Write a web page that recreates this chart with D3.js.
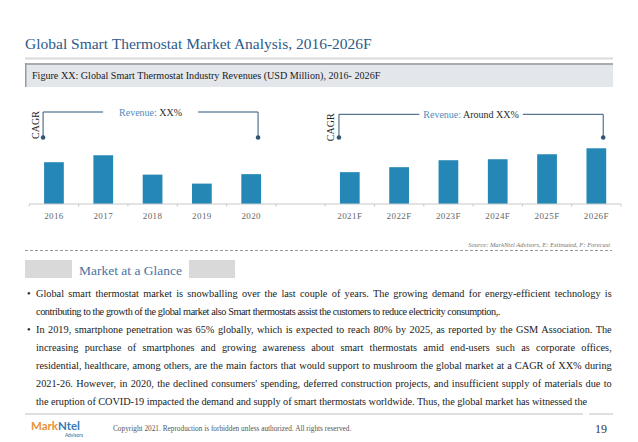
<!DOCTYPE html>
<html>
<head>
<meta charset="utf-8">
<script src="https://cdn.jsdelivr.net/npm/d3@7"></script>
<style>
  body { margin: 0; background: #fff; }
  svg { display: block; }
</style>
</head>
<body>
<div id="page"></div>
<script>
// revenue bars (USD Million - relative heights only)
const histYears = ["2016", "2017", "2018", "2019", "2020"];
const histRevenue = [420, 490, 295, 205, 300];
const forecastYears = ["2021F", "2022F", "2023F", "2024F", "2025F", "2026F"];
const forecastRevenue = [320, 370, 440, 450, 500, 560];
const cagrLabels = ["Revenue:", "Revenue:"];
const cagrValues = [" XX%", " Around XX%"];

const bodyLines = [
  { bullet: true, text: "Global smart thermostat market is snowballing over the last couple of years. The growing demand for energy-efficient technology is" },
  { bullet: false, text: "contributing to the growth of the global market also Smart thermostats assist the customers to reduce electricity consumption,." },
  { bullet: true, text: "In 2019, smartphone penetration was 65% globally, which is expected to reach 80% by 2025, as reported by the GSM Association. The" },
  { bullet: false, text: "increasing purchase of smartphones and growing awareness about smart thermostats amid end-users such as corporate offices," },
  { bullet: false, text: "residential, healthcare, among others, are the main factors that would support to mushroom the global market at a CAGR of XX% during" },
  { bullet: false, text: "2021-26. However, in 2020, the declined consumers' spending, deferred construction projects, and insufficient supply of materials due to" },
  { bullet: false, text: "the eruption of COVID-19 impacted the demand and supply of smart thermostats worldwide. Thus, the global market has witnessed the" }
];
// right edge of each body line (layout only)
const lineRight = [611.7, 500, 611.7, 611.7, 611.7, 611.7, 587];

const width = 638, height = 442;
const serif = "'Liberation Serif', 'DejaVu Serif', serif";
const barColor = "#2487b5";
const bracketColor = "#2f5577";

const svg = d3.select("#page").append("svg")
  .attr("width", width)
  .attr("height", height)
  .style("background", "#fff");

// ---- page header ----
svg.append("text")
  .attr("x", 25).attr("y", 48.5)
  .attr("fill", "#2e5b88")
  .attr("font-family", serif).attr("font-size", 15.5)
  .text("Global Smart Thermostat Market Analysis, 2016-2026F");

svg.append("line")
  .attr("x1", 25).attr("x2", 613).attr("y1", 58.5).attr("y2", 58.5)
  .attr("stroke", "#dadada").attr("stroke-width", 2);

svg.append("rect").attr("x", 25).attr("y", 63).attr("width", 588).attr("height", 24).attr("fill", "#e3e6eb");
svg.append("rect").attr("x", 25).attr("y", 63).attr("width", 588).attr("height", 2).attr("fill", "#a8abaf");
svg.append("rect").attr("x", 25).attr("y", 63).attr("width", 1.5).attr("height", 24).attr("fill", "#9a9a9a");
svg.append("text")
  .attr("x", 32).attr("y", 79)
  .attr("fill", "#1a1a1a")
  .attr("font-family", serif).attr("font-size", 10.1)
  .text("Figure XX: Global Smart Thermostat Industry Revenues (USD Million), 2016- 2026F");

// ---- bar chart ----
const gapKey = "gap";
const categories = [...histYears, gapKey, ...forecastYears];
const barData = histYears.map((d, i) => ({ year: d, value: histRevenue[i] }))
  .concat(forecastYears.map((d, i) => ({ year: d, value: forecastRevenue[i] })));

const x = d3.scaleBand().domain(categories).range([29.3, 621]).padding(0);
const y = d3.scaleLinear().domain([0, 600]).range([204, 144.3]);
const barW = x.bandwidth() * 0.4;
const barX = d => x(d) + (x.bandwidth() - barW) / 2;

const chart = svg.append("g").attr("class", "chart");

chart.selectAll(".bar")
  .data(barData)
  .join("rect")
  .attr("class", "bar")
  .attr("x", d => barX(d.year))
  .attr("y", d => y(d.value))
  .attr("width", barW)
  .attr("height", d => y(0) - y(d.value))
  .attr("fill", barColor);

// axis: labels at band centres, ticks at band edges
const axis = chart.append("g")
  .attr("transform", `translate(0,${y(0)})`)
  .call(d3.axisBottom(x).tickSize(0).tickPadding(8.5).tickFormat(d => d === gapKey ? "" : d));
axis.select(".domain").remove();
axis.selectAll("text")
  .attr("fill", "#666")
  .attr("font-family", serif)
  .attr("font-size", 9)
  .attr("letter-spacing", 0.4);

const edges = categories.map(c => x(c)).concat([x.range()[1]]);
axis.append("line")
  .attr("x1", x.range()[0]).attr("x2", x.range()[1])
  .attr("stroke", "#c8c8c8");
axis.selectAll(".edge")
  .data(edges)
  .join("line")
  .attr("class", "edge")
  .attr("x1", d => d).attr("x2", d => d)
  .attr("y1", 0).attr("y2", 2.5)
  .attr("stroke", "#c8c8c8");

// CAGR brackets over each group
const groups = [histYears, forecastYears];
const bracketPad = [16, 4];
const lineY = [112, 114.3], dotY = 137.5;

groups.forEach((yrs, gi) => {
  const x1 = barX(yrs[0]) - 1;
  const x2 = barX(yrs[yrs.length - 1]) + barW - 3;
  const mid = (x1 + x2) / 2;
  const ly = lineY[gi];
  const g = chart.append("g");

  const label = g.append("text")
    .attr("x", mid).attr("y", ly + 3.5)
    .attr("text-anchor", "middle")
    .attr("font-family", serif).attr("font-size", 10);
  label.append("tspan").attr("fill", "#4f8dbf").text(cagrLabels[gi]);
  label.append("tspan").attr("fill", "#2b2b2b").text(cagrValues[gi]);
  const half = label.node().getComputedTextLength() / 2 + bracketPad[gi];

  g.append("path")
    .attr("d", `M${x1},${dotY}V${ly}H${mid - half}M${mid + half},${ly}H${x2}V${dotY}`)
    .attr("fill", "none")
    .attr("stroke", bracketColor)
    .attr("stroke-width", 1);
  g.selectAll("circle")
    .data([x1, x2])
    .join("circle")
    .attr("cx", d => d).attr("cy", dotY).attr("r", 2.3)
    .attr("fill", bracketColor);

  g.append("text")
    .attr("transform", `translate(${x1 - 4.5},${ly + 13}) rotate(-90)`)
    .attr("text-anchor", "middle")
    .attr("fill", "#222")
    .attr("font-family", serif).attr("font-size", 10)
    .text("CAGR");
});

// source note + dashed rule
svg.append("text")
  .attr("x", 610).attr("y", 246.5)
  .attr("text-anchor", "end")
  .attr("fill", "#777")
  .attr("font-family", serif).attr("font-size", 6.5).attr("font-style", "italic")
  .text("Source: MarkNtel Advisors, E: Estimated, F: Forecast");

svg.append("line")
  .attr("x1", 25).attr("x2", 612).attr("y1", 250.5).attr("y2", 250.5)
  .attr("stroke", "#9a9a9a").attr("stroke-dasharray", "3,2");

// ---- Market at a Glance ----
svg.append("rect").attr("x", 25).attr("y", 260).attr("width", 47).attr("height", 18).attr("fill", "#d9d9d9");
svg.append("rect").attr("x", 189).attr("y", 260).attr("width", 46).attr("height", 18).attr("fill", "#d9d9d9");
svg.append("text")
  .attr("x", 79).attr("y", 275)
  .attr("fill", "#4a72a6")
  .attr("font-family", serif).attr("font-size", 13.5)
  .text("Market at a Glance");

const textLeft = 36;
const body = svg.append("g")
  .attr("font-family", serif).attr("font-size", 10.3).attr("fill", "#1a1a1a");

bodyLines.forEach((ln, i) => {
  const yy = 296.5 + i * 18;
  if (ln.bullet) {
    body.append("text").attr("x", 27).attr("y", yy).text("•");
  }
  const t = body.append("text").attr("x", textLeft).attr("y", yy).text(ln.text);
  // stretch or squeeze the line to its right edge
  const target = lineRight[i] - textLeft;
  const natural = t.node().getComputedTextLength();
  if (target >= natural) {
    const spaces = (ln.text.match(/ /g) || []).length;
    t.attr("word-spacing", (target - natural) / spaces);
  } else {
    t.attr("letter-spacing", (target - natural) / ln.text.length);
  }
});

// ---- footer ----
svg.append("line").attr("x1", 25).attr("x2", 583).attr("y1", 414).attr("y2", 414)
  .attr("stroke", "#d5d5d5").attr("stroke-width", 1.5);
svg.append("line").attr("x1", 589).attr("x2", 613).attr("y1", 414).attr("y2", 414)
  .attr("stroke", "#d5d5d5").attr("stroke-width", 1.5);

const logo = svg.append("text")
  .attr("x", 31).attr("y", 429.5)
  .attr("font-family", "Lato, 'Open Sans', sans-serif").attr("font-weight", 700).attr("font-size", 11.5);
logo.append("tspan").attr("fill", "#e8913a").text("Mark");
logo.append("tspan").attr("fill", "#3b78b5").text("Ntel");
svg.append("text")
  .attr("x", 83).attr("y", 436.5).attr("text-anchor", "end")
  .attr("fill", "#3b5f8a")
  .attr("font-family", "Lato, sans-serif").attr("font-size", 4.8)
  .text("Advisors");

svg.append("text")
  .attr("x", 113).attr("y", 431)
  .attr("fill", "#555")
  .attr("font-family", serif).attr("font-size", 7.3)
  .text("Copyright 2021. Reproduction is forbidden unless authorized. All rights reserved.");

svg.append("text")
  .attr("x", 607).attr("y", 432.5).attr("text-anchor", "end")
  .attr("fill", "#333")
  .attr("font-family", serif).attr("font-size", 12)
  .text("19");
</script>
</body>
</html>
